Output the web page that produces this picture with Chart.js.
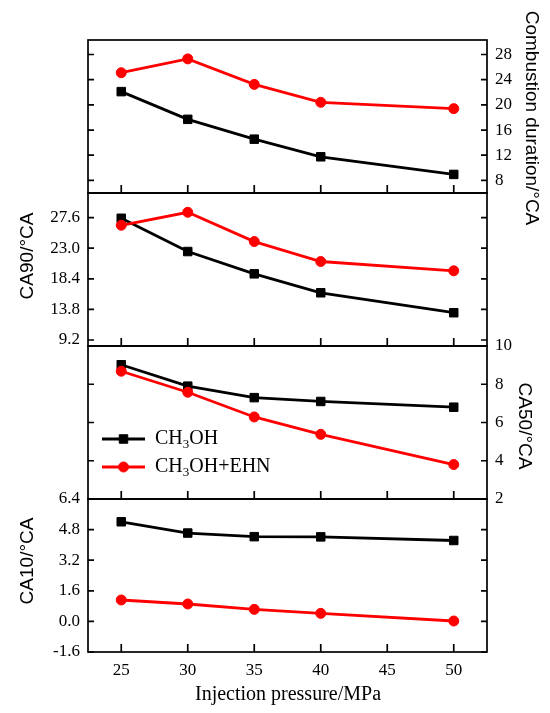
<!DOCTYPE html>
<html>
<head>
<meta charset="utf-8">
<script src="https://cdn.jsdelivr.net/npm/chart.js@4.4.0/dist/chart.umd.min.js"></script>
<style>
html, body { margin: 0; padding: 0; background: #fff; }
#wrap { position: relative; width: 550px; height: 713px; }
</style>
</head>
<body>
<div id="wrap"><canvas id="chart"></canvas></div>
<script>
// injection pressure (MPa)
const pressure = [25, 30, 35, 40, 50];

// combustion duration (°CA)
const durMeoh = [22.1, 17.7, 14.55, 11.75, 8.95];
const durEhn = [25.1, 27.3, 23.25, 20.4, 19.4];
// CA90
const ca90Meoh = [27.5, 22.5, 19.15, 16.3, 13.3];
const ca90Ehn = [26.45, 28.4, 24.0, 21.0, 19.6];
// CA50
const ca50Meoh = [9.02, 7.9, 7.3, 7.1, 6.8];
const ca50Ehn = [8.68, 7.58, 6.29, 5.38, 3.8];
// CA10
const ca10Meoh = [5.21, 4.62, 4.43, 4.42, 4.23];
const ca10Ehn = [1.12, 0.91, 0.63, 0.42, 0.02];

// tick labels
const xTicks = [25, 30, 35, 40, 45, 50];
const durTicks = [8, 12, 16, 20, 24, 28];
const ca90Ticks = [9.2, 13.8, 18.4, 23.0, 27.6];
const ca50Ticks = [2, 4, 6, 8, 10];
const ca10Ticks = [-1.6, 0, 1.6, 3.2, 4.8, 6.4];

const seriesNames = ['CH3OH', 'CH3OH+EHN'];

const BLACK = '#000000';
const RED = '#ff0000';
const serif = "'Liberation Serif', 'Times New Roman', serif";
const sans = "'Liberation Sans', Arial, sans-serif";

function pts(arr) {
    return pressure.map((p, i) => ({ x: p, y: arr[i] }));
}

function series(idx, arr, axis) {
    const red = idx === 1;
    return {
        label: seriesNames[idx],
        data: pts(arr),
        yAxisID: axis,
        xAxisID: 'x',
        borderColor: red ? RED : BLACK,
        backgroundColor: red ? RED : BLACK,
        borderWidth: 2.8,
        pointStyle: red ? 'circle' : 'rect',
        pointRadius: red ? 5 : 6,
        pointHoverRadius: red ? 5 : 6,
        pointBorderWidth: 1,
        pointBackgroundColor: red ? RED : BLACK,
        pointBorderColor: red ? RED : BLACK,
        tension: 0,
        fill: false,
        order: red ? 0 : 1
    };
}

function valueAxis(pos, weight, min, max, ticks, decimals) {
    return {
        type: 'linear',
        position: pos,
        stack: pos === 'left' ? 'L' : 'R',
        weight: weight,
        min: min,
        max: max,
        afterBuildTicks: s => { s.ticks = ticks.map(v => ({ value: v })); },
        afterFit: s => { s.width = pos === 'left' ? 88 : 63; },
        grid: { display: false, drawTicks: false },
        border: { display: false },
        ticks: {
            autoSkip: false,
            padding: 8,
            color: '#000',
            font: { family: serif, size: 17 },
            callback: v => decimals ? Number(v).toFixed(decimals) : String(v)
        }
    };
}

function dummyAxis(pos, weight) {
    return {
        type: 'linear',
        position: pos,
        stack: pos === 'left' ? 'L' : 'R',
        weight: weight,
        min: 0,
        max: 1,
        afterFit: s => { s.width = pos === 'left' ? 88 : 63; },
        grid: { display: false, drawTicks: false },
        border: { display: false },
        ticks: { display: false }
    };
}

// panels from top to bottom, each named by its labelled axis
const panels = ['yR1', 'yL2', 'yR3', 'yL4'];

const axisTitles = [
    { text: 'Combustion duration/°CA', x: 531, y: 118, rot: Math.PI / 2, font: '19px ' + sans },
    { text: 'CA90/°CA', x: 27.5, y: 256, rot: -Math.PI / 2, font: '19px ' + sans },
    { text: 'CA50/°CA', x: 524, y: 426, rot: Math.PI / 2, font: '19px ' + sans },
    { text: 'CA10/°CA', x: 28, y: 561, rot: -Math.PI / 2, font: '19px ' + sans },
    { text: 'Injection pressure/MPa', x: 288, y: 695, rot: 0, font: '20px ' + serif }
];

const framePlugin = {
    id: 'frames',
    beforeDatasetsDraw(chart) {
        const ctx = chart.ctx;
        const ca = chart.chartArea;
        const xs = chart.scales.x;
        ctx.save();
        ctx.strokeStyle = '#000';
        ctx.lineWidth = 1.7;
        panels.forEach(id => {
            const s = chart.scales[id];
            ctx.strokeRect(ca.left, s.top, ca.right - ca.left, s.bottom - s.top);
            ctx.beginPath();
            s.ticks.forEach(t => {
                const y = s.getPixelForValue(t.value);
                ctx.moveTo(ca.left, y); ctx.lineTo(ca.left + 6, y);
                ctx.moveTo(ca.right - 6, y); ctx.lineTo(ca.right, y);
            });
            xTicks.forEach(v => {
                const x = xs.getPixelForValue(v);
                ctx.moveTo(x, s.bottom); ctx.lineTo(x, s.bottom - 8);
            });
            ctx.stroke();
        });
        ctx.restore();
    }
};

function drawSubText(ctx, text, x, y, size) {
    let cx = x;
    for (const ch of text) {
        const sub = /[0-9]/.test(ch);
        ctx.font = (sub ? Math.round(size * 0.65) : size) + 'px ' + serif;
        ctx.fillText(ch, cx, sub ? y + size * 0.28 : y);
        cx += ctx.measureText(ch).width;
    }
}

const textPlugin = {
    id: 'texts',
    afterDraw(chart) {
        const ctx = chart.ctx;
        const ca = chart.chartArea;
        ctx.save();
        ctx.fillStyle = '#000';
        ctx.textAlign = 'center';
        ctx.textBaseline = 'middle';
        axisTitles.forEach(t => {
            ctx.save();
            ctx.translate(t.x, t.y);
            ctx.rotate(t.rot);
            ctx.font = t.font;
            ctx.fillText(t.text, 0, 0);
            ctx.restore();
        });

        // legend in the CA50 panel
        const p3 = chart.scales.yR3;
        const rows = [p3.top + 93, p3.top + 121];
        [1, 0].forEach((order, k) => {
            const ds = chart.data.datasets.find(d => d.label === seriesNames[k] && d.order === order);
            const y = rows[k];
            ctx.strokeStyle = ds.borderColor;
            ctx.lineWidth = ds.borderWidth;
            ctx.beginPath();
            ctx.moveTo(ca.left + 14, y);
            ctx.lineTo(ca.left + 57, y);
            ctx.stroke();
            ctx.fillStyle = ds.pointBackgroundColor;
            ctx.strokeStyle = ds.pointBorderColor;
            ctx.lineWidth = ds.pointBorderWidth;
            Chart.helpers.drawPoint(ctx, { pointStyle: ds.pointStyle, rotation: 0, radius: ds.pointRadius, borderWidth: ds.pointBorderWidth }, ca.left + 35.5, y);
            ctx.fillStyle = '#000';
            ctx.textAlign = 'left';
            drawSubText(ctx, seriesNames[k], ca.left + 67, y, 20);
        });
        ctx.restore();
    }
};

const ctx = document.getElementById('chart').getContext('2d');
const chart = new Chart(ctx, {
    type: 'line',
    data: {
        datasets: [
            series(1, durEhn, 'yR1'),
            series(1, ca90Ehn, 'yL2'),
            series(1, ca50Ehn, 'yR3'),
            series(1, ca10Ehn, 'yL4'),
            series(0, durMeoh, 'yR1'),
            series(0, ca90Meoh, 'yL2'),
            series(0, ca50Meoh, 'yR3'),
            series(0, ca10Meoh, 'yL4')
        ]
    },
    options: {
        responsive: true,
        maintainAspectRatio: false,
        animation: false,
        events: [],
        layout: { padding: { top: 40, left: 0, right: 0, bottom: 0 } },
        plugins: {
            legend: { display: false },
            tooltip: { enabled: false }
        },
        scales: {
            x: {
                type: 'linear',
                position: 'bottom',
                min: 22.5,
                max: 52.5,
                afterBuildTicks: s => { s.ticks = xTicks.map(v => ({ value: v })); },
                afterFit: s => { s.height = 61; },
                grid: { display: false, drawTicks: false },
                border: { display: false },
                ticks: {
                    autoSkip: false,
                    maxRotation: 0,
                    padding: 8,
                    color: '#000',
                    font: { family: serif, size: 17 }
                }
            },
            yR1: valueAxis('right', 1, 6, 30.3, durTicks, 0),
            yL1: dummyAxis('left', 4),
            yL2: valueAxis('left', 3, 8.3, 31.3, ca90Ticks, 1),
            yR2: dummyAxis('right', 2),
            yR3: valueAxis('right', 3, 2, 10, ca50Ticks, 0),
            yL3: dummyAxis('left', 2),
            yL4: valueAxis('left', 1, -1.6, 6.4, ca10Ticks, 1),
            yR4: dummyAxis('right', 4)
        }
    },
    plugins: [framePlugin, textPlugin]
});
</script>
</body>
</html>
